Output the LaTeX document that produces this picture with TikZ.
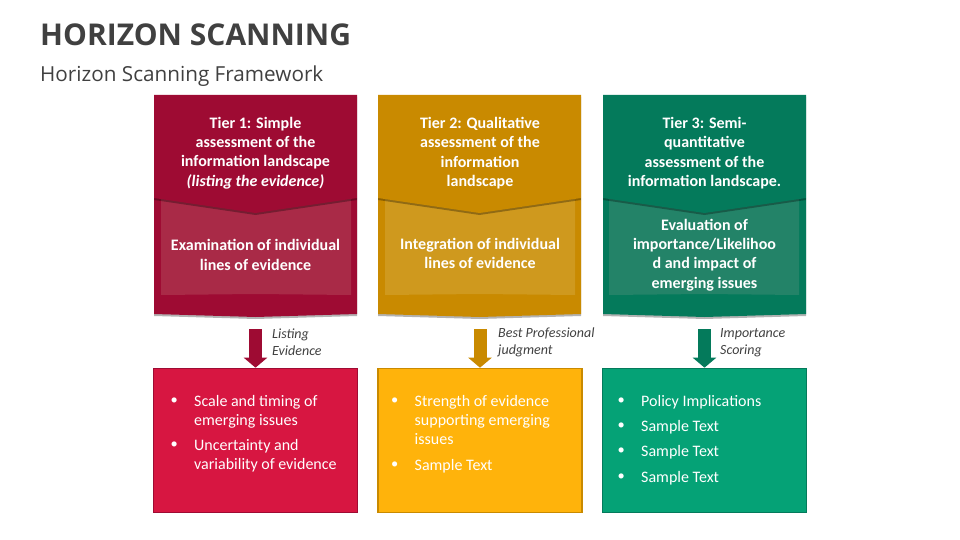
\documentclass[tikz,border=0pt]{standalone}
\usepackage{fontspec}
\setmainfont{Carlito}
\newfontfamily\headfont{Open Sans}
\usetikzlibrary{arrows.meta,shadows}
\definecolor{reddark}{HTML}{9E0B33}
\definecolor{redmid}{HTML}{A92A47}
\definecolor{redbox}{HTML}{D71641}
\definecolor{ambdark}{HTML}{C98A00}
\definecolor{ambmid}{HTML}{CF991E}
\definecolor{ambbox}{HTML}{FFB30B}
\definecolor{gredark}{HTML}{047A5B}
\definecolor{gremid}{HTML}{238368}
\definecolor{grebox}{HTML}{05A276}
\definecolor{headgray}{HTML}{404040}
\tikzset{
  panelshadow/.style={drop shadow={shadow xshift=0pt,shadow yshift=-2pt,opacity=0.3,fill=black}},
  tiertext/.style={text=white,align=center,inner sep=0pt,font=\fontsize{16}{19.3}\selectfont\bfseries},
  scantext/.style={text=headgray,align=left,anchor=west,inner sep=0pt,font=\fontsize{14}{17}\selectfont\itshape},
  itemtext/.style={text=white,align=left,anchor=north west,inner sep=0pt,font=\fontsize{16}{19.3}\selectfont,
    label={[text=white,inner sep=0pt,font=\fontsize{14.5}{19.3}\selectfont,xshift=-16pt,yshift=-10pt]north west:\textbullet}},
  resultbox/.style={draw=#1,line width=1.6pt,minimum width=204pt,minimum height=144pt,inner sep=0pt},
  flowarrow/.style={draw=#1,line width=13pt,-{Triangle[width=23pt,length=10pt,fill=#1]}},
}
\begin{document}
\begin{tikzpicture}[x=1pt,y=-1pt]
\useasboundingbox (0,0) rectangle (960,540);

\node[anchor=west,inner sep=0pt,text=headgray,font=\fontsize{30}{36}\selectfont\headfont\bfseries] (title) at (40,35) {HORIZON SCANNING};
\node[anchor=west,inner sep=0pt,text=headgray,font=\fontsize{20.7}{24}\selectfont\headfont] (subtitle) at (40,76) {Horizon Scanning Framework};

% tier 1
\fill[reddark,panelshadow] (154,198) -- (357,198) -- (357,314) -- (255.5,317) -- (154,314) -- cycle;
\fill[redmid] (161,198) -- (351,198) -- (351,295) -- (255.5,294) -- (161,295) -- cycle;
\fill[reddark,panelshadow] (154,95) -- (357,95) -- (357,198) -- (255.5,213) -- (154,198) -- cycle;
\node[tiertext] (tier1) at (255.5,153) {Tier 1: Simple\\assessment of the\\information landscape\\\textit{(listing the evidence)}};
\node[tiertext] (line1) at (255.5,255) {Examination of individual\\lines of evidence};

% tier 2
\fill[ambdark,panelshadow] (378,198) -- (581,198) -- (581,314) -- (479.5,317) -- (378,314) -- cycle;
\fill[ambmid] (385,198) -- (575,198) -- (575,295) -- (479.5,294) -- (385,295) -- cycle;
\fill[ambdark,panelshadow] (378,95) -- (581,95) -- (581,198) -- (479.5,213) -- (378,198) -- cycle;
\node[tiertext] (tier2) at (480,153) {Tier 2: Qualitative\\assessment of the\\information\\landscape};
\node[tiertext] (line2) at (480,253.5) {Integration of individual\\lines of evidence};

% tier 3
\fill[gredark,panelshadow] (603,198) -- (806,198) -- (806,314) -- (704.5,317) -- (603,314) -- cycle;
\fill[gremid] (609,198) -- (799,198) -- (799,295) -- (704.5,294) -- (609,295) -- cycle;
\fill[gredark,panelshadow] (603,95) -- (806,95) -- (806,198) -- (704.5,213) -- (603,198) -- cycle;
\node[tiertext] (tier3) at (704.5,153) {Tier 3: Semi-\\quantitative\\assessment of the\\information landscape.};
\node[tiertext] (line3) at (704.5,255) {Evaluation of\\importance/Likelihoo\\d and impact of\\emerging issues};

% result boxes
\node[resultbox=reddark,fill=redbox] (box1) at (255.5,440.5) {};
\node[resultbox=ambdark,fill=ambbox] (box2) at (480,440.5) {};
\node[resultbox=gredark,fill=grebox] (box3) at (704.5,440.5) {};

% arrows
\coordinate (start1) at (255.5,329);
\coordinate (start2) at (480,329);
\coordinate (start3) at (704.5,329);
\path[flowarrow=reddark] (start1) -- (box1.north);
\path[flowarrow=ambdark] (start2) -- (box2.north);
\path[flowarrow=gredark] (start3) -- (box3.north);

\node[scantext] (scan1) at (272,342.5) {Listing\\Evidence};
\node[scantext] (scan2) at (498,342.5) {Best Professional\\judgment};
\node[scantext] (scan3) at (720,342.5) {Importance\\Scoring};

% box texts
\node[itemtext] (item11) at (194,395) {Scale and timing of\\emerging issues};
\node[itemtext] (item12) at (194,439) {Uncertainty and\\variability of evidence};

\node[itemtext] (item21) at (414.5,395) {Strength of evidence\\supporting emerging\\issues};
\node[itemtext] (item22) at (414.5,459) {Sample Text};

\node[itemtext] (item31) at (641,395) {Policy Implications};
\node[itemtext] (item32) at (641,420) {Sample Text};
\node[itemtext] (item33) at (641,445) {Sample Text};
\node[itemtext] (item34) at (641,471) {Sample Text};
\end{tikzpicture}
\end{document}
